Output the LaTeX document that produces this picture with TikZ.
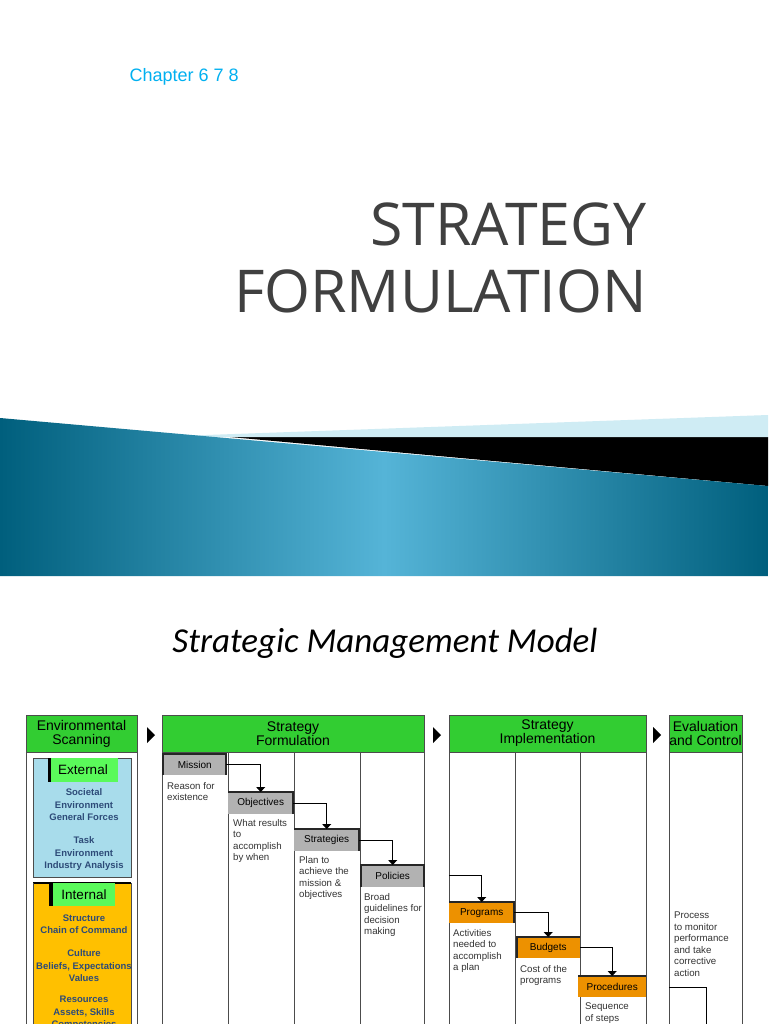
\documentclass[tikz,border=0pt]{standalone}
\usepackage{fontspec}
\setmainfont{Liberation Sans}
\newfontfamily\titlefont{Open Sans}
\newfontfamily\subfont{Carlito}
\usetikzlibrary{arrows.meta}
\definecolor{hgreen}{RGB}{50,205,50}
\definecolor{lblue}{RGB}{168,220,235}
\definecolor{orng}{RGB}{255,192,0}
\definecolor{dorng}{RGB}{237,145,0}
\definecolor{gbox}{RGB}{178,178,178}
\definecolor{txtblue}{RGB}{45,75,120}
\definecolor{cyanc}{RGB}{0,176,240}
\definecolor{lbgreen}{RGB}{90,250,90}
\begin{document}
\begin{tikzpicture}[x=1pt,y=-1pt,
  hdr/.style={draw=black!70,fill=hgreen,line width=0.8pt,align=center,font=\fontsize{14}{14}\selectfont,inner sep=0pt},
  col/.style={draw=black!70,line width=0.8pt},
  gray box/.style={fill=gbox,font=\fontsize{10}{10}\selectfont,inner sep=0pt},
  org box/.style={fill=dorng,font=\fontsize{10}{10}\selectfont,inner sep=0pt},
  desc/.style={font=\fontsize{9.7}{11.5}\selectfont,text=black!80,align=left,anchor=north west,inner sep=0pt},
  envt/.style={font=\bfseries\fontsize{9.5}{12.5}\selectfont,text=txtblue,align=center,inner sep=0pt},
  conn/.style={line width=0.9pt,-{Triangle[width=9pt,length=5pt]}},
  tri/.style={fill=black}]
\useasboundingbox (0,0) rectangle (768,1024);
\fill[white] (0,0) rectangle (768,1024);
\node[anchor=west,text=cyanc,font=\fontsize{18}{18}\selectfont] (ch) at (126,77) {Chapter 6 7 8};
\node[anchor=east,text=black!75,font=\titlefont\fontsize{59}{67}\selectfont,align=right] (title) at (650,258) {STRATEGY\\FORMULATION};
% banner
\fill[black] (230,437) -- (768,437) -- (768,486) -- cycle;
\fill[lblue!55] (150,437) -- (768,415) -- (768,437) -- cycle;
\shade[left color={rgb,255:red,0;green,95;blue,125},right color={rgb,255:red,0;green,95;blue,125},middle color={rgb,255:red,85;green,180;blue,215}] (0,418) -- (768,486) -- (768,576) -- (0,576) -- cycle;
\node[font=\subfont\itshape\fontsize{35}{35}\selectfont] (sub) at (385,643) {Strategic Management Model};
% column bodies
\draw[col] (26,752) -- (26,1024) (137,752) -- (137,1024);
\draw[col] (162,752) -- (162,1024) (228,752) -- (228,1024) (294,752) -- (294,1024) (360,752) -- (360,1024) (424,752) -- (424,1024);
\draw[col] (449,752) -- (449,1024) (515,752) -- (515,1024) (580,752) -- (580,1024) (646,752) -- (646,1024);
\draw[col] (669,752) -- (669,1024) (742,752) -- (742,1024);
% headers
\node[hdr,minimum width=111,minimum height=37] (h1) at (81.5,733.5) {Environmental\\Scanning};
\node[hdr,minimum width=262,minimum height=37] (h2) at (293,733.5) {Strategy\\Formulation};
\node[hdr,minimum width=197,minimum height=37] (h3) at (547.5,733.5) {Strategy\\Implementation};
\node[hdr,minimum width=73,minimum height=37] (h4) at (705.5,733.5) {Evaluation\\and Control};
\fill[tri] (147,727) -- (155,735) -- (147,743) -- cycle;
\fill[tri] (433,727) -- (441,735) -- (433,743) -- cycle;
\fill[tri] (653,727) -- (661,735) -- (653,743) -- cycle;
% external
\draw[fill=lblue,draw=black!70,line width=0.8pt] (33,758) rectangle (131,877);
\fill[lbgreen] (50,758) rectangle (118,782);
\fill[black] (48,758) rectangle (51,782);
\node[font=\fontsize{13.5}{14}\selectfont] (ext) at (83,770) {External};
\node[envt] (ext1) at (84,805) {Societal\\Environment\\General Forces};
\node[envt] (ext2) at (84,854) {Task\\Environment\\Industry Analysis};
% internal
\fill[orng] (33,883) rectangle (131,1024);
\draw[line width=1.5pt] (33,883) -- (131,883);
\draw[draw=black!70,line width=0.8pt] (33,1024) -- (33,883) (131,883) -- (131,1024);
\fill[lbgreen] (52,883) rectangle (115,906);
\fill[black] (49,883) rectangle (53,906);
\node[font=\fontsize{13.5}{14}\selectfont] (int) at (84,894.5) {Internal};
\node[envt] (int1) at (84,924) {Structure\\Chain of Command};
\node[envt] (int2) at (84,966) {Culture\\Beliefs, Expectations\\Values};
\node[envt,anchor=north] (int3) at (84,996) {Resources\\Assets, Skills\\Competencies};
\fill[white] (0,1024) rectangle (768,1030);
% formulation boxes
\node[gray box,minimum width=63,minimum height=21,anchor=north west] (mis) at (163,754) {Mission};
\draw[line width=1.5pt,black!85] (163,775) -- (163,754) -- (226,754) -- (226,775);
\node[desc] (misd) at (167,782) {Reason for\\existence};
\node[gray box,minimum width=65,minimum height=22,anchor=north west] (obj) at (228,792) {Objectives};
\draw[line width=1.5pt,black!85] (228,792) -- (293,792) -- (293,814);
\node[desc] (objd) at (233,819) {What results\\to\\accomplish\\by when};
\node[gray box,minimum width=65,minimum height=22,anchor=north west] (str) at (294,829) {Strategies};
\draw[line width=1.5pt,black!85] (294,829) -- (359,829) -- (359,851);
\node[desc] (strd) at (299,856) {Plan to\\achieve the\\mission \&\\objectives};
\node[gray box,minimum width=63,minimum height=22,anchor=north west] (pol) at (361,865) {Policies};
\draw[line width=1.5pt,black!85] (361,887) -- (361,865) -- (424,865) -- (424,887);
\node[desc] (pold) at (364,893) {Broad\\guidelines for\\decision\\making};
% implementation boxes
\node[org box,minimum width=65,minimum height=21,anchor=north west] (prg) at (449,902) {Programs};
\draw[line width=1.5pt,black!85] (449,902) -- (514,902) -- (514,923);
\node[desc] (prgd) at (453,929) {Activities\\needed to\\accomplish\\a plan};
\node[org box,minimum width=64,minimum height=21,anchor=north west] (bud) at (516,937) {Budgets};
\draw[line width=1.5pt,black!85] (517,958) -- (517,937) -- (580,937);
\node[desc] (budd) at (520,965) {Cost of the\\programs};
\node[org box,minimum width=68,minimum height=21,anchor=north west] (proc) at (578,976) {Procedures};
\draw[line width=1.5pt,black!85] (578,976) -- (646,976);
\node[desc] (procd) at (585,1003) {Sequence\\of steps};
\node[desc] (evd) at (674,912) {Process\\to monitor\\performance\\and take\\corrective\\action};
% connectors
\coordinate (pstart) at (449,875);
\coordinate (evstart) at (669,987);
\coordinate (evend) at (706,1030);
\draw[conn] (mis.east) -| (obj.north);
\draw[conn] (obj.east) -| (str.north);
\draw[conn] (str.east) -| (pol.north);
\draw[conn] (pstart) -| (prg.north);
\draw[conn] (prg.east) -| (bud.north);
\draw[conn] (bud.east) -| (proc.north);
\draw[line width=0.8pt] (evstart) -| (evend);
\end{tikzpicture}
\end{document}
